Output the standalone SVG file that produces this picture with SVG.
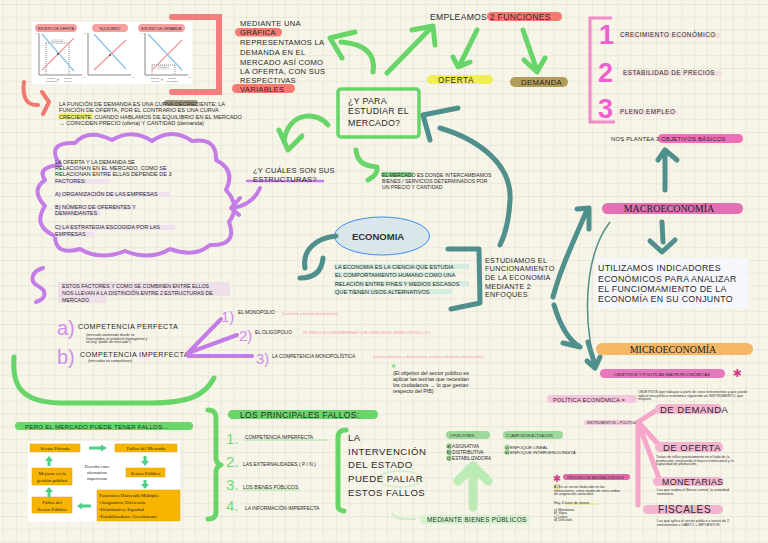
<svg xmlns="http://www.w3.org/2000/svg" width="768" height="543" viewBox="0 0 768 543">
<defs>
<pattern id="grid" width="12.8" height="12.8" patternUnits="userSpaceOnUse" x="3" y="4">
<path d="M12.8,0 L0,0 0,12.8" fill="none" stroke="#d9d8cc" stroke-width="0.8"/>
</pattern>
<style>
.h{font-family:"Liberation Sans",Arial,sans-serif;fill:#2a2a2a;}
.sf{font-family:"Liberation Serif","Times New Roman",serif;fill:#222;}
.g{fill:none;stroke:#68d568;stroke-width:5;stroke-linecap:round;stroke-linejoin:round;}
.t{fill:none;stroke:#4f8f8c;stroke-width:5;stroke-linecap:round;stroke-linejoin:round;}
.p{fill:none;stroke:#c47de6;stroke-width:4;stroke-linecap:round;stroke-linejoin:round;}
.pk{fill:none;stroke:#f5a6ca;stroke-width:5;stroke-linecap:round;}
.ob{fill:#f8b500;stroke:#e0a000;stroke-width:0.5;}
.arw{fill:#4ccf86;}
.tiny{font-family:"Liberation Sans",Arial,sans-serif;fill:#333;font-size:3.6px;}
.ax{font-family:"Liberation Sans",Arial,sans-serif;fill:#555;font-size:2.2px;}
</style>
</defs>
<rect width="768" height="543" fill="#f7f4e8"/>
<rect width="768" height="543" fill="url(#grid)"/>

<!-- Charts top-left -->
<g id="charts">
<rect x="32" y="22" width="160" height="62" fill="#ffffff"/>
<rect x="35" y="24" width="42" height="8" rx="4" fill="#f7a0a0"/>
<text class="h" x="56" y="30" font-size="3.6" text-anchor="middle">EXCESO DE OFERTA</text>
<rect x="92" y="24" width="36" height="8" rx="4" fill="#f7a0a0"/>
<text class="h" x="110" y="30" font-size="3.6" text-anchor="middle">EQUILIBRIO</text>
<rect x="138" y="24" width="47" height="8" rx="4" fill="#f7a0a0"/>
<text class="h" x="161.5" y="30" font-size="3.6" text-anchor="middle">EXCESO DE DEMANDA</text>
<g stroke="#555" stroke-width="0.7" fill="none">
<path d="M39,33 L39,75 L82,75"/>
<path d="M88,33 L88,75 L131,75"/>
<path d="M145,33 L145,75 L188,75"/>
<path d="M46,43 L69,43 M46,43 L46,75 M69,43 L69,75" stroke-dasharray="1,1"/>
<path d="M152,65 L175,65 M152,65 L152,75 M175,65 L175,75" stroke-dasharray="1,1"/>
</g>
<rect x="52" y="40" width="11" height="3" fill="#fff" stroke="#777" stroke-width="0.3"/>
<text class="ax" x="57.5" y="42.2" text-anchor="middle">excedente</text>
<rect x="158" y="66" width="11" height="3" fill="#fff" stroke="#777" stroke-width="0.3"/>
<text class="ax" x="163.5" y="68.2" text-anchor="middle">escasez</text>
<g stroke="#8cc4e6" stroke-width="1.3">
<line x1="42" y1="34" x2="74" y2="71"/>
<line x1="94" y1="34" x2="126" y2="69"/>
<line x1="148" y1="34" x2="182" y2="70"/>
</g>
<g stroke="#f29999" stroke-width="1.3">
<line x1="42" y1="70" x2="74" y2="38"/>
<line x1="94" y1="70" x2="126" y2="40"/>
<line x1="152" y1="70" x2="182" y2="40"/>
</g>
<circle cx="58" cy="54" r="0.9" fill="#444"/>
<circle cx="110" cy="55" r="0.9" fill="#444"/>
<text class="ax" x="37" y="34" text-anchor="end">P</text>
<text class="ax" x="86" y="34" text-anchor="end">P</text>
<text class="ax" x="143" y="34" text-anchor="end">P</text>
<text class="ax" x="83" y="78">Q</text>
<text class="ax" x="132" y="78">Q</text>
<text class="ax" x="189" y="78">Q</text>
<text class="ax" x="51" y="79" text-anchor="middle">cantidad</text>
<text class="ax" x="51" y="81.5" text-anchor="middle">demandada</text>
<text class="h" x="57" y="81" font-size="3.5">&lt;</text>
<text class="ax" x="68" y="79" text-anchor="middle">cantidad</text>
<text class="ax" x="68" y="81.5" text-anchor="middle">ofrecida</text>
<text class="ax" x="155" y="79" text-anchor="middle">cantidad</text>
<text class="ax" x="155" y="81.5" text-anchor="middle">ofrecida</text>
<text class="h" x="161" y="81" font-size="3.5">&lt;</text>
<text class="ax" x="172" y="79" text-anchor="middle">cantidad</text>
<text class="ax" x="172" y="81.5" text-anchor="middle">demandada</text>
</g>

<!-- Red bracket -->
<g id="redbracket" fill="none" stroke="#f26a6a" stroke-width="6" stroke-linecap="round" opacity="0.85">
<path d="M172,17 L219,17 L219,92 L172,92"/>
</g>

<!-- Grafica text -->
<g id="grafica">
<rect x="235" y="28" width="47" height="8.5" rx="4.2" fill="#f47a72"/>
<rect x="232" y="84" width="63" height="9" rx="4.5" fill="#f47a72"/>
<g class="h" font-size="7.6" letter-spacing="0.3">
<text x="240" y="26">MEDIANTE UNA</text>
<text x="240" y="35">GRÁFICA</text>
<text x="240" y="45">REPRESENTAMOS LA</text>
<text x="240" y="55">DEMANDA EN EL</text>
<text x="240" y="65">MERCADO ASÍ COMO</text>
<text x="240" y="74">LA OFERTA, CON SUS</text>
<text x="240" y="83">RESPECTIVAS</text>
<text x="240" y="92">VARIABLES</text>
</g>
</g>

<!-- Funcion paragraph -->
<g id="funcion">
<rect x="164" y="100" width="34" height="6" rx="3" fill="#8a8060" opacity="0.8"/>
<rect x="58" y="113" width="35" height="6" rx="3" fill="#eef36a"/>
<g class="h" font-size="5.6">
<text x="59" y="106">LA FUNCIÓN DE DEMANDA ES UNA CURVA DECRECIENTE; LA</text>
<text x="59" y="112">FUNCIÓN DE OFERTA, POR EL CONTRARIO ES UNA CURVA</text>
<text x="59" y="119">CRECIENTE. CUANDO HABLAMOS DE EQUILIBRIO EN EL MERCADO</text>
<text x="59" y="125">→ COINCIDEN PRECIO (oferta) Y CANTIDAD (demanda)</text>
</g>
</g>

<!-- Empleamos -->
<g id="empleamos">
<rect x="487" y="12" width="75" height="9" rx="4.5" fill="#f47a72"/>
<text class="h" x="430" y="20" font-size="8.6" letter-spacing="0.3">EMPLEAMOS 2 FUNCIONES</text>
</g>
<g id="oferta">
<rect x="427" y="75" width="66" height="9" rx="4.5" fill="#f0ee55"/>
<text class="h" x="438" y="83" font-size="8.2" letter-spacing="0.6">OFERTA</text>
</g>
<g id="demanda">
<rect x="510" y="77" width="58" height="10" rx="5" fill="#b39b58"/>
<text class="h" x="521" y="85" font-size="7.8" letter-spacing="0.3">DEMANDA</text>
</g>

<!-- Objetivos -->
<g id="objetivos">
<path d="M612,18 L590,18 L590,122 L615,122" fill="none" stroke="#f08ac8" stroke-width="3"/>
<g font-family="Liberation Sans,Arial,sans-serif" font-size="27" font-weight="bold" fill="#ef5fcf">
<text x="599" y="44">1</text>
<text x="598" y="82">2</text>
<text x="598" y="118">3</text>
</g>
<rect x="620" y="33" width="100" height="5" rx="2.5" fill="#f6dede"/>
<rect x="622" y="71" width="100" height="5" rx="2.5" fill="#f6dede"/>
<rect x="618" y="110" width="60" height="5" rx="2.5" fill="#f6dede"/>
<g class="h" font-size="6.3" letter-spacing="0.5">
<text x="620" y="37">CRECIMIENTO ECONÓMICO</text>
<text x="623" y="75">ESTABILIDAD DE PRECIOS</text>
<text x="620" y="114">PLENO EMPLEO</text>
</g>
<rect x="658" y="134" width="85" height="9" rx="4.5" fill="#ef6fb9"/>
<text class="h" x="611" y="141" font-size="5.9" letter-spacing="0.2">NOS PLANTEA 3 OBJETIVOS BÁSICOS</text>
</g>

<!-- Box mercado -->
<g id="mercadobox">
<rect x="338" y="89" width="81" height="48" rx="3" fill="none" stroke="#68d568" stroke-width="3.5"/>
<g class="h" font-size="8.8" letter-spacing="0.3">
<text x="348" y="104">¿Y PARA</text>
<text x="348" y="114">ESTUDIAR EL</text>
<text x="348" y="126">MERCADO?</text>
</g>
</g>

<!-- Estructuras -->
<g id="estructuras">
<line x1="247" y1="181" x2="323" y2="181" stroke="#c47de6" stroke-width="2.5" stroke-linecap="round"/>
<g class="h" font-size="7.6" letter-spacing="0.2">
<text x="253" y="173">¿Y CUÁLES SON SUS</text>
<text x="253" y="182">ESTRUCTURAS?</text>
</g>
</g>

<!-- Cloud -->
<g id="cloud">
<path class="p" d="M60,165 Q45,142 75,143 Q88,128 112,140 Q132,128 152,141 Q172,127 192,141 Q217,137 216,160 Q236,170 226,190 Q241,206 229,222 Q238,246 210,245 Q195,258 170,249 Q150,261 125,251 Q100,261 80,249 Q55,256 55,236 Q32,226 45,206 Q30,190 45,180 Q36,167 60,165 Z"/>
<g fill="#efe2ee">
<rect x="55" y="179" width="55" height="5"/>
<rect x="55" y="192" width="115" height="5"/>
<rect x="55" y="205" width="80" height="5"/>
<rect x="55" y="211" width="45" height="5"/>
<rect x="55" y="225" width="120" height="5"/>
<rect x="55" y="232" width="40" height="5"/>
</g>
<g class="h" font-size="5.5">
<text x="55" y="164">LA OFERTA Y LA DEMANDA SE</text>
<text x="55" y="170">RELACIONAN EN EL MERCADO, COMO SE</text>
<text x="55" y="176">RELACIONAN ENTRE ELLAS DEPENDE DE 3</text>
<text x="55" y="183">FACTORES:</text>
<text x="55" y="196">A) ORGANIZACIÓN DE LAS EMPRESAS</text>
<text x="55" y="209">B) NÚMERO DE OFERENTES Y</text>
<text x="55" y="215">DEMANDANTES</text>
<text x="55" y="229">C) LA ESTRATEGIA ESCOGIDA POR LAS</text>
<text x="55" y="236">EMPRESAS</text>
</g>
</g>

<!-- El mercado def -->
<g id="elmercado">
<rect x="381" y="172" width="32" height="5" rx="2" fill="#5fc86a" opacity="0.8"/>
<g class="h" font-size="5.1">
<text x="382" y="177">EL MERCADO ES DONDE INTERCAMBIAMOS</text>
<text x="382" y="183">BIENES / SERVICIOS DETERMINADOS POR</text>
<text x="382" y="189">UN PRECIO Y CANTIDAD</text>
</g>
</g>

<!-- Economia -->
<g id="economia">
<ellipse cx="382" cy="236" rx="47.5" ry="19" fill="#dbe6ea" stroke="#3b8ff0" stroke-width="1"/>
<text x="378" y="240" font-family="Liberation Sans,Arial,sans-serif" font-size="9.5" font-weight="bold" fill="#333" text-anchor="middle">ECONOMIA</text>
</g>
<g id="economiadef">
<g fill="#d3ecdf">
<rect x="334" y="264" width="135" height="5"/>
<rect x="334" y="272" width="120" height="5"/>
<rect x="334" y="281" width="135" height="5"/>
<rect x="334" y="289" width="118" height="5"/>
</g>
<g class="h" font-size="5.6">
<text x="335" y="269">LA ECONOMIA ES LA CIENCIA QUE ESTUDIA</text>
<text x="335" y="277">EL COMPORTAMIENTO HUMANO COMO UNA</text>
<text x="335" y="286">RELACIÓN ENTRE FINES Y MEDIOS ESCASOS</text>
<text x="335" y="294">QUE TIENEN USOS ALTERNATIVOS</text>
</g>
</g>

<g id="estudiamos">
<g class="h" font-size="7.2" letter-spacing="0.3">
<text x="485" y="263">ESTUDIAMOS EL</text>
<text x="485" y="271">FUNCIONAMIENTO</text>
<text x="485" y="280">DE LA ECONOMIA</text>
<text x="485" y="289">MEDIANTE 2</text>
<text x="485" y="297">ENFOQUES</text>
</g>
</g>

<!-- Macro -->
<g id="macro">
<rect x="602" y="203" width="141" height="11" rx="5.5" fill="#e36fb4"/>
<text class="sf" x="669" y="212" font-size="10" text-anchor="middle">MACROECONOMÍA</text>
</g>
<g id="indicadores">
<rect x="595" y="258" width="153" height="50" fill="#f5f7fb"/>
<g class="h" font-size="8.8" letter-spacing="0.3">
<text x="598" y="271">UTILIZAMOS INDICADORES</text>
<text x="598" y="282">ECONÓMICOS PARA ANALIZAR</text>
<text x="598" y="292">EL FUNCIOMAMIENTO DE LA</text>
<text x="598" y="302">ECONOMÍA EN SU CONJUNTO</text>
</g>
</g>
<g id="micro">
<rect x="596" y="343" width="157" height="12" rx="6" fill="#f6b866"/>
<text class="sf" x="673" y="353" font-size="10" text-anchor="middle">MICROECONOMÍA</text>
</g>

<g id="politicas">
<rect x="600" y="369" width="125" height="9" rx="4.5" fill="#e577bd"/>
<text class="h" x="662" y="375.5" font-size="4.2" text-anchor="middle">OBJETIVOS Y POLÍTICAS MACROECONÓMICAS</text>
<text x="737" y="377" font-size="11" fill="#d0408f" text-anchor="middle" font-family="DejaVu Sans,sans-serif">✱</text>
<rect x="547" y="395" width="90" height="8" rx="4" fill="#f6c6dc"/>
<text class="h" x="553" y="401.5" font-size="5.8" letter-spacing="0.2">POLÍTICA ECONÓMICA =</text>
<text class="tiny" x="638" y="393" font-size="3.2">OBJETIVOS que trabajan a partir de unos instrumentos y que puede</text>
<text class="tiny" x="638" y="396.5" font-size="3.2">aplicar una política económica siguiendo un INSTRUMENTO, que</text>
<text class="tiny" x="638" y="400" font-size="3.2">mejoren</text>
<rect x="584" y="420" width="49" height="5" rx="2.5" fill="#f6c6dc"/>
<text class="tiny" x="587" y="424" font-size="3">INSTRUMENTOS + POLÍTICAS</text>
</g>
<g id="pinklines">
<path class="pk" d="M638,422 L660,408 M638,422 L660,446 M638,422 L660,481 M638,422 L638,505"/>
</g>
<g id="dedemanda">
<rect x="655" y="404" width="67" height="10" rx="5" fill="#f4b4d0"/>
<text class="h" x="660" y="413" font-size="9.5" letter-spacing="0.5">DE DEMANDA</text>
</g>
<g id="deoferta">
<rect x="655" y="442" width="68" height="10" rx="5" fill="#f4b4d0"/>
<text class="h" x="663" y="451" font-size="9.5" letter-spacing="0.5">DE OFERTA</text>
<text class="tiny" x="656" y="458" font-size="3.3">Tratan de influir positivamente en el lado de la</text>
<text class="tiny" x="656" y="461.5" font-size="3.3">producción, mejorando el marco institucional y la</text>
<text class="tiny" x="656" y="465" font-size="3.3">capacidad de producción.</text>
</g>
<g id="monetarias">
<rect x="653" y="477" width="70" height="9" rx="4.5" fill="#f4b4d0"/>
<text class="h" x="662" y="485" font-size="8.8" letter-spacing="0.4">MONETARIAS</text>
<text class="tiny" x="657" y="491" font-size="3.3">Las que realiza el Banco central, la autoridad</text>
<text class="tiny" x="657" y="494.5" font-size="3.3">monetaria.</text>
</g>
<g id="fiscales">
<rect x="643" y="505" width="80" height="9" rx="4.5" fill="#f4b4d0"/>
<text class="h" x="658" y="513" font-size="10" letter-spacing="0.6">FISCALES</text>
<text class="tiny" x="657" y="522" font-size="3.3">Las que aplica el sector público a través de 2</text>
<text class="tiny" x="657" y="525.5" font-size="3.3">instrumentos = GASTO + IMPUESTOS</text>
</g>

<!-- Proceso asignacion -->
<g id="proceso">
<text x="557" y="482" font-size="10" fill="#d0408f" text-anchor="middle" font-family="DejaVu Sans,sans-serif">✱</text>
<rect x="563" y="474" width="67" height="6" rx="3" fill="#e06aa8"/>
<text class="tiny" x="567" y="478.5" font-size="3.4">PROCESO DE ASIGNACIÓN DE B</text>
<circle cx="557" cy="487" r="3" fill="none" stroke="#e6e060" stroke-width="1"/>
<text class="tiny" x="554" y="488" font-size="3.2">A) Es un sector dedicado en los</text>
<text class="tiny" x="554" y="491.5" font-size="3.2">instituciones, como medio de intercambio</text>
<text class="tiny" x="554" y="495" font-size="3.2">de asignación conocidas.</text>
<line x1="565" y1="504" x2="598" y2="504" stroke="#e6e060" stroke-width="1.2"/>
<text class="tiny" x="554" y="503.5" font-size="3.2">Hay 4 fases de ahorro</text>
<text class="tiny" x="554" y="510.5" font-size="3.2">a) Monitoreo</text>
<text class="tiny" x="554" y="514" font-size="3.2">b) Vigas</text>
<text class="tiny" x="554" y="517.5" font-size="3.2">c) Leyes</text>
<text class="tiny" x="554" y="521" font-size="3.2">d) Decisión</text>
</g>

<!-- Funciones / campos -->
<g id="funciones">
<rect x="446" y="431" width="44" height="8" rx="4" fill="#9ed79a"/>
<text class="tiny" x="450" y="436.5" font-size="3.8">2 FUNCIONES :</text>
<circle cx="449" cy="446" r="2.8" fill="#9ed79a"/>
<circle cx="449" cy="452" r="2.8" fill="#9ed79a"/>
<circle cx="449" cy="458" r="2.8" fill="#9ed79a"/>
<g class="h" font-size="4.6">
<text x="447" y="448">a) ASIGNATIVA</text>
<text x="447" y="454">b) DISTRIBUTIVA</text>
<text x="447" y="460">c) ESTABILIZADORA</text>
</g>
</g>
<g id="campos">
<rect x="503" y="431" width="60" height="8" rx="4" fill="#9ed79a"/>
<text class="tiny" x="506" y="436.5" font-size="3.6">2 CAMPOS DE ACTUACIÓN</text>
<circle cx="507" cy="447" r="2.6" fill="#9ed79a"/>
<circle cx="507" cy="452" r="2.6" fill="#9ed79a"/>
<g class="h" font-size="4.4">
<text x="505" y="449">a) ENFOQUE LINEAL</text>
<text x="505" y="454">b) ENFOQUE INTERVENCIONISTA</text>
</g>
</g>
<g id="bienespublicos">
<path d="M473,507 L473,468 M458,481 L473,466 L488,481" fill="none" stroke="#bdebb5" stroke-width="9" stroke-linecap="round" stroke-linejoin="round"/>
<rect x="420" y="515" width="110" height="9" rx="4.5" fill="#d6f3d0"/>
<text class="h" x="427" y="522" font-size="6.4" letter-spacing="0.3">MEDIANTE BIENES PÚBLICOS</text>
</g>

<!-- Estos factores / competencia -->
<g id="estosfactores">
<path class="p" d="M43,268 C30,272 30,282 38,286 C46,290 48,298 36,302"/>
<rect x="58" y="282" width="172" height="7" fill="#efdfe9"/>
<rect x="58" y="289" width="172" height="7" fill="#efdfe9"/>
<rect x="58" y="296" width="48" height="7" fill="#efdfe9"/>
<g class="h" font-size="5.3">
<text x="62" y="288">ESTOS FACTORES Y COMO SE COMBINEN ENTRE ELLOS</text>
<text x="62" y="295">NOS LLEVAN A LA DISTINCIÓN ENTRE 2 ESTRUCTURAS DE</text>
<text x="62" y="302">MERCADO</text>
</g>
</g>
<g id="perfecta">
<text x="57" y="335" font-family="Liberation Sans,Arial,sans-serif" font-size="20" fill="#cf8fea">a)</text>
<text class="h" x="78" y="329" font-size="7.2" letter-spacing="0.4">COMPETENCIA PERFECTA</text>
<text class="tiny" x="86" y="336" font-size="3.4">(mercado atomizado donde se</text>
<text class="tiny" x="86" y="339.5" font-size="3.4">intercambia un producto homogéneo y</text>
<text class="tiny" x="86" y="343" font-size="3.4">no hay "poder de mercado")</text>
</g>
<g id="imperfecta">
<text x="57" y="364" font-family="Liberation Sans,Arial,sans-serif" font-size="20" fill="#cf8fea">b)</text>
<text class="h" x="80" y="357" font-size="7.2" letter-spacing="0.4">COMPETENCIA IMPERFECTA</text>
<text class="tiny" x="88" y="362" font-size="3.4">(mercados no competitivos)</text>
</g>
<g id="monopolio">
<text x="221" y="322" font-family="Liberation Sans,Arial,sans-serif" font-size="15" fill="#cf8fea">1)</text>
<text class="h" x="238" y="314" font-size="4.8">EL MONOPOLIO</text>
<text x="282" y="315" font-family="Liberation Sans,Arial,sans-serif" font-size="3.5" fill="#f39a9a">(1 oferente y muchos demandantes)</text>
</g>
<g id="oligopolio">
<text x="239" y="341" font-family="Liberation Sans,Arial,sans-serif" font-size="15" fill="#cf8fea">2)</text>
<text class="h" x="255" y="334" font-size="4.8">EL OLIGOPOLIO</text>
<text x="303" y="334" font-family="Liberation Sans,Arial,sans-serif" font-size="3.8" fill="#f39a9a">(Nº REDUCIDO DE EMPRESAS QUE OFRECEN EL MISMO PRODUCTO)</text>
</g>
<g id="monopolistica">
<text x="256" y="364" font-family="Liberation Sans,Arial,sans-serif" font-size="15" fill="#cf8fea">3)</text>
<text class="h" x="272" y="358" font-size="4.8">LA COMPETENCIA MONOPOLÍSTICA</text>
<text x="373" y="358" font-family="Liberation Sans,Arial,sans-serif" font-size="3.5" fill="#f39a9a">(muchos oferentes y demandantes, existencia de bienes diferenciados)</text>
</g>
<g id="objetivosector">
<text x="391" y="368" font-size="6" fill="#8fe08f" font-family="DejaVu Sans,sans-serif">✱</text>
<g class="h" font-size="5.3">
<text x="393" y="375">(El objetivo del sector público es</text>
<text x="393" y="381">aplicar las teorías que necesitan</text>
<text x="393" y="387">los ciudadanos → lo que gestan</text>
<text x="393" y="393">respecto del PIB)</text>
</g>
</g>

<!-- Fallos -->
<g id="perofallos">
<rect x="15" y="422" width="178" height="8" rx="4" fill="#6ad56a"/>
<text class="h" x="25" y="429" font-size="6.2" letter-spacing="0.2">PERO EL MERCADO PUEDE TENER FALLOS...</text>
</g>
<g id="flowchart">
<rect x="28" y="441" width="152" height="81" fill="#ffffff"/>
<rect class="ob" x="30" y="444" width="50" height="8"/>
<text class="sf" x="55" y="450" font-size="5" text-anchor="middle">Sector Privado</text>
<rect class="ob" x="115" y="444" width="62" height="8"/>
<text class="sf" x="146" y="450" font-size="5" text-anchor="middle">Fallos del Mercado</text>
<rect class="ob" x="126" y="468" width="39" height="9"/>
<text class="sf" x="145.5" y="474.5" font-size="5" text-anchor="middle">Sector Público</text>
<rect class="ob" x="97" y="490" width="83" height="31"/>
<g class="sf" font-size="5">
<text x="99" y="496.5">Funciones Hacienda Múltiple:</text>
<text x="99" y="503.5">•Asignativa: Eficiencia</text>
<text x="99" y="510.5">•Distributiva: Equidad</text>
<text x="99" y="517.5">•Estabilizadora: Crecimiento</text>
</g>
<rect class="ob" x="32" y="497" width="40" height="16"/>
<text class="sf" x="52" y="503.5" font-size="5" text-anchor="middle">Fallos del</text>
<text class="sf" x="52" y="510.5" font-size="5" text-anchor="middle">Sector Público</text>
<rect class="ob" x="32" y="468" width="40" height="17"/>
<text class="sf" x="52" y="475" font-size="5" text-anchor="middle">Mejoras en la</text>
<text class="sf" x="52" y="482" font-size="5" text-anchor="middle">gestión pública</text>
<text class="sf" x="97" y="468" font-size="4.3" text-anchor="middle">Elección entre</text>
<text class="sf" x="97" y="474" font-size="4.3" text-anchor="middle">alternativas</text>
<text class="sf" x="97" y="480" font-size="4.3" text-anchor="middle">imperfectas</text>
<path class="arw" d="M89,446.5 L101,446.5 L101,444.5 L107,448 L101,451.5 L101,449.5 L89,449.5 Z"/>
<path class="arw" d="M143.5,456 L146.5,456 L146.5,461 L149,461 L145,466 L141,461 L143.5,461 Z"/>
<path class="arw" d="M143.5,480 L146.5,480 L146.5,484 L149,484 L145,489 L141,484 L143.5,484 Z"/>
<path class="arw" d="M91,504.5 L82,504.5 L82,502.5 L77,506 L82,509.5 L82,507.5 L91,507.5 Z"/>
<path class="arw" d="M47.5,497 L50.5,497 L50.5,492 L53,492 L49,487 L45,492 L47.5,492 Z"/>
<path class="arw" d="M47.5,466 L50.5,466 L50.5,461 L53,461 L49,456 L45,461 L47.5,461 Z"/>
</g>

<g id="principales">
<path class="g" stroke-width="2" d="M208,410 C214,410 216,413 216,419 L216,458 C216,462 218,464 221,465 C218,466 216,468 216,472 L216,512 C216,517 213,519 208,519"/>
<rect x="228" y="410" width="150" height="9" rx="4.5" fill="#6ad56a"/>
<text class="h" x="240" y="417.5" font-size="8.4" letter-spacing="0.4">LOS PRINCIPALES FALLOS:</text>
<g font-family="Liberation Sans,Arial,sans-serif" font-size="15" fill="#72dc72">
<text x="226" y="444">1.</text>
<text x="226" y="467">2.</text>
<text x="226" y="490">3.</text>
<text x="226" y="511">4.</text>
</g>
<line x1="244" y1="440" x2="328" y2="440" stroke="#bdebb5" stroke-width="1.5"/>
<line x1="243" y1="490" x2="300" y2="490" stroke="#bdebb5" stroke-width="1.5"/>
<g class="h" font-size="4.9">
<text x="245" y="439">COMPETENCIA IMPERFECTA</text>
<text x="243" y="466">LAS EXTERNALIDADES ( P / N )</text>
<text x="243" y="489">LOS BIENES PÚBLICOS</text>
<text x="245" y="510">LA INFORMACIÓN IMPERFECTA</text>
</g>
</g>
<g id="intervencion">
<path class="g" stroke-width="2" d="M346,430 C340,430 338,433 338,438 L338,506 C338,509 341,511 344,511"/>
<ellipse cx="400" cy="479" rx="22" ry="8" fill="none" stroke="#c9efc2" stroke-width="1.3"/>
<path d="M392,513 C395,519 405,520 416,519" fill="none" stroke="#c9efc2" stroke-width="2"/>
<g class="h" font-size="9.6" letter-spacing="0.5">
<text x="348" y="441">LA</text>
<text x="348" y="455">INTERVENCIÓN</text>
<text x="348" y="468">DEL ESTADO</text>
<text x="348" y="482">PUEDE PALIAR</text>
<text x="348" y="496">ESTOS FALLOS</text>
</g>
</g>

<!-- Connectors -->
<g id="connectors">
<path fill="none" stroke="#f07a72" stroke-width="4" stroke-linecap="round" stroke-linejoin="round" d="M24,82 C22,96 26,106 38,105 M42,92 L49,102 L43,114"/>
<path class="g" d="M373,72 C376,55 366,44 341,42 M355,32 L330,38 L342,58"/>
<path class="g" d="M387,73 L429,30 M412,30 L433,26 L435,45"/>
<path class="g" d="M477,30 C470,44 465,55 459,66 M453,57 L458,67 L470,62"/>
<path class="g" d="M523,30 C528,45 533,58 537,71 M524,60 L537,72 L545,58"/>
<path class="g" d="M328,125 C318,112 290,110 284,140 M279,130 L288,150 L302,136"/>
<path class="g" d="M356,150 C357,160 362,166 377,167 C378,172 374,177 368,180"/>
<path class="p" d="M260,188 C255,200 245,206 233,208 M240,198 L231,208 L239,215"/>
<path class="t" d="M440,128 C480,140 512,165 510,200 C509,220 505,235 500,245 M423,115 L458,108 M423,115 L430,140"/>
<path class="t" stroke-width="8" d="M336,236 C316,238 302,250 305,268 M323,258 C322,270 316,278 300,278"/>
<path class="t" d="M448,249 L479,249 L480,303 L451,309"/>
<path class="t" d="M553,297 C560,270 572,245 587,210 M577,209 L589,208 L589,229"/>
<path fill="none" stroke="#4f8f8c" stroke-width="1.5" d="M610,222 C588,250 584,300 590,340 C592,355 594,362 596,367"/>
<path class="t" d="M588,342 L595,365 M587,361 L595,368 L600,357"/>
<path class="t" d="M554,305 C560,325 568,340 580,347 M563,343 L580,347"/>
<path class="t" d="M662,222 L663,242 M650,241 L662,252 L675,240"/>
<path class="t" d="M665,190 L665,152 M658,160 L665,150 L677,160"/>
<path class="p" stroke-width="2" d="M188,353 L221,319 M188,353 L237,335 M188,356 L252,356"/>
<path class="g" stroke-width="12" stroke="#6ddb6d" d="M14,357 C12,385 20,402 60,403 L150,403 C190,403 205,395 214,378"/>
</g>
</svg>
